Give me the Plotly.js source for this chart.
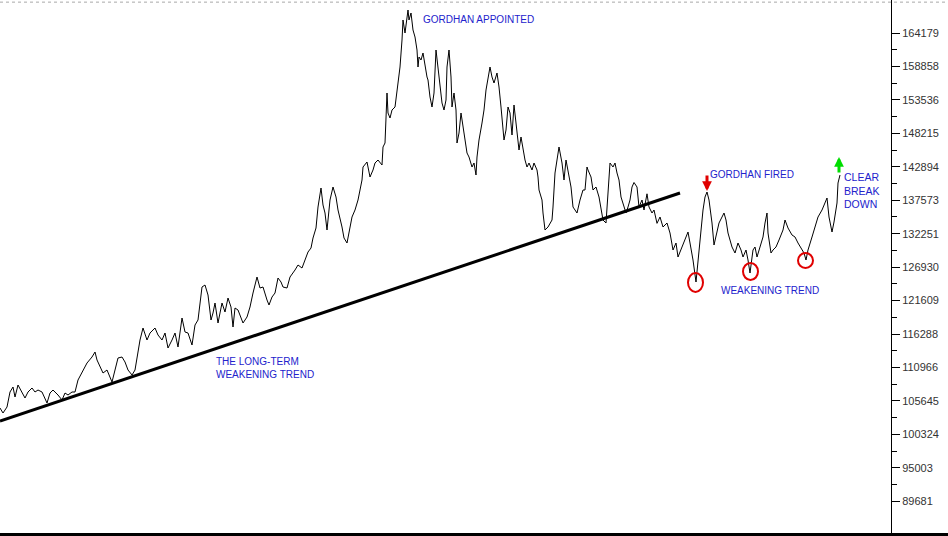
<!DOCTYPE html>
<html>
<head>
<meta charset="utf-8">
<script src="https://cdn.plot.ly/plotly-3.0.1.min.js"></script>
<style>html,body{margin:0;padding:0;background:#fff;}#chart{width:948px;height:536px;}</style>
</head>
<body>
<div id="chart"></div>
<script>
// trading-day index (approx.) and index level
const day = [0,3,7,10,13,15,18,22,25,28,32,35,38,42,47,50,53,58,62,65,68,72,75,78,82,87,92,95,97,100,
103,107,112,115,118,122,125,128,132,135,137,140,143,147,150,155,158,162,165,168,172,175,178,182,185,188,192,195,198,202,
205,208,211,213,215,218,222,225,228,231,233,235,238,241,243,247,250,253,257,260,263,267,269,272,275,278,281,283,287,290,
293,295,298,302,305,308,311,313,316,318,321,323,325,327,330,333,336,338,342,344,347,350,352,355,358,362,363,367,370,373,
375,378,382,383,385,387,388,390,392,395,397,400,402,403,405,407,408,409,411,413,415,417,418,419,421,423,425,427,428,430,
432,434,436,438,440,442,444,446,447,449,451,452,454,456,457,459,461,463,464,467,469,472,474,476,477,479,482,484,486,488,
490,492,494,497,499,501,503,504,506,508,510,512,514,517,519,521,523,525,527,529,532,534,537,538,539,542,543,545,548,552,
553,555,557,559,562,564,566,568,571,573,577,580,583,585,587,588,591,593,596,599,601,603,606,608,610,613,615,617,619,621,
623,626,628,630,632,634,637,639,642,644,647,649,652,654,657,660,663,667,670,673,676,678,682,685,688,690,693,696,698,701,
703,705,707,709,712,714,717,719,722,724,726,728,732,735,738,741,743,746,748,750,753,755,757,760,763,765,767,768,771,773,
776,779,783,785,788,792,795,798,802,804,806,808,812,815,818,822,825,827,829,832,834,837,838,840];
const level = [104527,103732,104686,107073,107868,106277,108186,107073,106118,107073,107709,107073,107391,107073,105323,106914,107391,106595,105800,106914,106595,107073,107073,108981,110095,111686,112640,113435,112163,111049,
110095,110572,108663,110572,112481,112640,111845,110572,109777,110572,112481,115344,117253,115344,116458,117253,116140,115344,116458,114072,115344,116458,114231,118844,116617,116458,114549,117730,118526,123775,
124093,122502,118526,119639,121230,118048,121230,119798,122025,120594,117412,120434,120116,119003,118048,119003,120594,122820,125366,123616,123775,121707,120912,122184,122820,125207,124570,123775,123616,125366,
126002,126479,127274,126797,128070,129342,129979,131569,133160,136501,139523,136819,135546,132842,137614,139682,138091,136023,133319,131569,130774,133637,134910,136023,137614,140795,142863,143659,141273,142386,
143500,143977,143181,146045,146681,154634,151453,150658,151930,152408,155112,158770,163065,166247,164179,167360,167837,166247,167360,164656,163542,161474,158770,160361,159884,160997,158770,157180,156702,153998,
152408,154634,161474,158770,156225,153044,151930,153521,158770,161474,157180,152408,154634,151930,146681,148272,151453,149226,147635,145090,144454,142863,143500,141591,144454,147158,149862,151930,155112,156702,
158770,157180,156225,157816,155589,152408,149226,147158,148749,152408,151453,147954,152726,148272,145567,147635,145567,143977,142863,143500,142386,143500,142386,141273,139205,137614,135546,132842,133319,134433,
136501,141909,143977,146045,143500,140795,143977,142386,139682,136501,135546,137614,139205,139205,142863,142386,141273,139205,139682,138091,136023,134433,133955,139682,143500,142863,143500,141909,140795,138091,
137137,135546,136501,137614,139682,140400,139682,136501,137614,136023,138600,136501,135546,136023,133900,134910,133319,133955,132365,129660,130774,128547,130138,131251,132524,130774,128070,124570,128070,132365,
136023,138091,138887,137614,133955,130456,132842,133955,134910,135546,134433,132365,130138,129183,130774,129660,128547,129660,128070,126002,129660,130138,128547,130138,131728,133955,135546,132365,129183,129660,
130138,131251,132842,134433,133160,132047,131728,130774,129660,129183,128070,129660,131728,133319,134910,136023,137137,137932,134910,132524,134114,137137,140318,141591];

// long-term support line (start / end)
const trendDay = [0, 680];
const trendLevel = [102450, 138730];

// right-hand axis tick labels
const tickValues = [164179,158858,153536,148215,142894,137573,132251,126930,121609,116288,110966,105645,100324,95003,89681];
const tickLabels = tickValues.map(v => String(v));
const minorValues = [];
for (let i = 0; i < tickValues.length - 1; i++) minorValues.push((tickValues[i] + tickValues[i+1]) / 2);

const BLUE = '#2222cc';
const RED = '#e00000';
const GREEN = '#00dd00';
const FONT = '"Liberation Sans", Arial, sans-serif';

const traces = [
  {x: day, y: level, type: 'scatter', mode: 'lines', line: {color: '#000', width: 1}, hoverinfo: 'skip'},
  {x: trendDay, y: trendLevel, type: 'scatter', mode: 'lines', line: {color: '#000', width: 3}, hoverinfo: 'skip'}
];

const layout = {
  width: 948, height: 536,
  margin: {l: 0, r: 57, t: 0, b: 2, pad: 0},
  paper_bgcolor: '#fff', plot_bgcolor: '#fff',
  showlegend: false,
  font: {family: FONT, size: 11, color: '#333'},
  xaxis: {range: [0, 891], showgrid: false, zeroline: false, showticklabels: false, ticks: '', showline: false, fixedrange: true},
  yaxis: {
    side: 'right', range: [84485, 169428], showgrid: false, zeroline: false,
    showline: true, linecolor: '#000', linewidth: 1,
    tickmode: 'array', tickvals: tickValues, ticktext: tickLabels,
    ticks: 'outside', ticklen: 8, tickcolor: '#000', tickwidth: 1,
    tickfont: {family: FONT, size: 11, color: '#333'},
    minor: {tickmode: 'array', tickvals: minorValues, ticks: 'outside', ticklen: 5, tickcolor: '#000', tickwidth: 1, showgrid: false},
    fixedrange: true
  },
  shapes: [
    {type: 'line', xref: 'paper', yref: 'paper', x0: 0, x1: 1.07, y0: 0.996, y1: 0.996, line: {color: '#a8a8a8', width: 1, dash: 'dot'}},
    {type: 'line', xref: 'paper', yref: 'paper', x0: 0, x1: 1.07, y0: -0.001, y1: -0.001, line: {color: '#000', width: 3}},
    {type: 'circle', xref: 'x', yref: 'y', x0: 688, x1: 703, y0: 122980, y1: 126002, line: {color: RED, width: 2}},
    {type: 'circle', xref: 'x', yref: 'y', x0: 743, x1: 758, y0: 124888, y1: 127592, line: {color: RED, width: 2}},
    {type: 'circle', xref: 'x', yref: 'y', x0: 798, x1: 813, y0: 126797, y1: 129183, line: {color: RED, width: 2}}
  ],
  annotations: [
    {x: 421, y: 166406, xref: 'x', yref: 'y', text: 'GORDHAN APPOINTED', showarrow: false, xanchor: 'left', yanchor: 'middle', font: {family: FONT, size: 10, color: BLUE}},
    {x: 708, y: 141750, xref: 'x', yref: 'y', text: 'GORDHAN FIRED', showarrow: false, xanchor: 'left', yanchor: 'middle', font: {family: FONT, size: 10, color: BLUE}},
    {x: 842, y: 139205, xref: 'x', yref: 'y', text: 'CLEAR<br>BREAK<br>DOWN', align: 'left', showarrow: false, xanchor: 'left', yanchor: 'middle', font: {family: FONT, size: 10.5, color: BLUE}},
    {x: 719, y: 123298, xref: 'x', yref: 'y', text: 'WEAKENING TREND', showarrow: false, xanchor: 'left', yanchor: 'middle', font: {family: FONT, size: 10, color: BLUE}},
    {x: 214, y: 110890, xref: 'x', yref: 'y', text: 'THE LONG-TERM<br>WEAKENING TREND', align: 'left', showarrow: false, xanchor: 'left', yanchor: 'middle', font: {family: FONT, size: 10, color: BLUE}},
    {x: 707, y: 139046, xref: 'x', yref: 'y', ax: 707, ay: 141750, axref: 'x', ayref: 'y', text: '', showarrow: true, arrowhead: 2, arrowsize: 0.65, arrowwidth: 3, arrowcolor: RED},
    {x: 839, y: 144454, xref: 'x', yref: 'y', ax: 839, ay: 141750, axref: 'x', ayref: 'y', text: '', showarrow: true, arrowhead: 2, arrowsize: 0.65, arrowwidth: 3, arrowcolor: GREEN}
  ]
};

Plotly.newPlot('chart', traces, layout, {staticPlot: true, displayModeBar: false});
</script>
</body>
</html>
